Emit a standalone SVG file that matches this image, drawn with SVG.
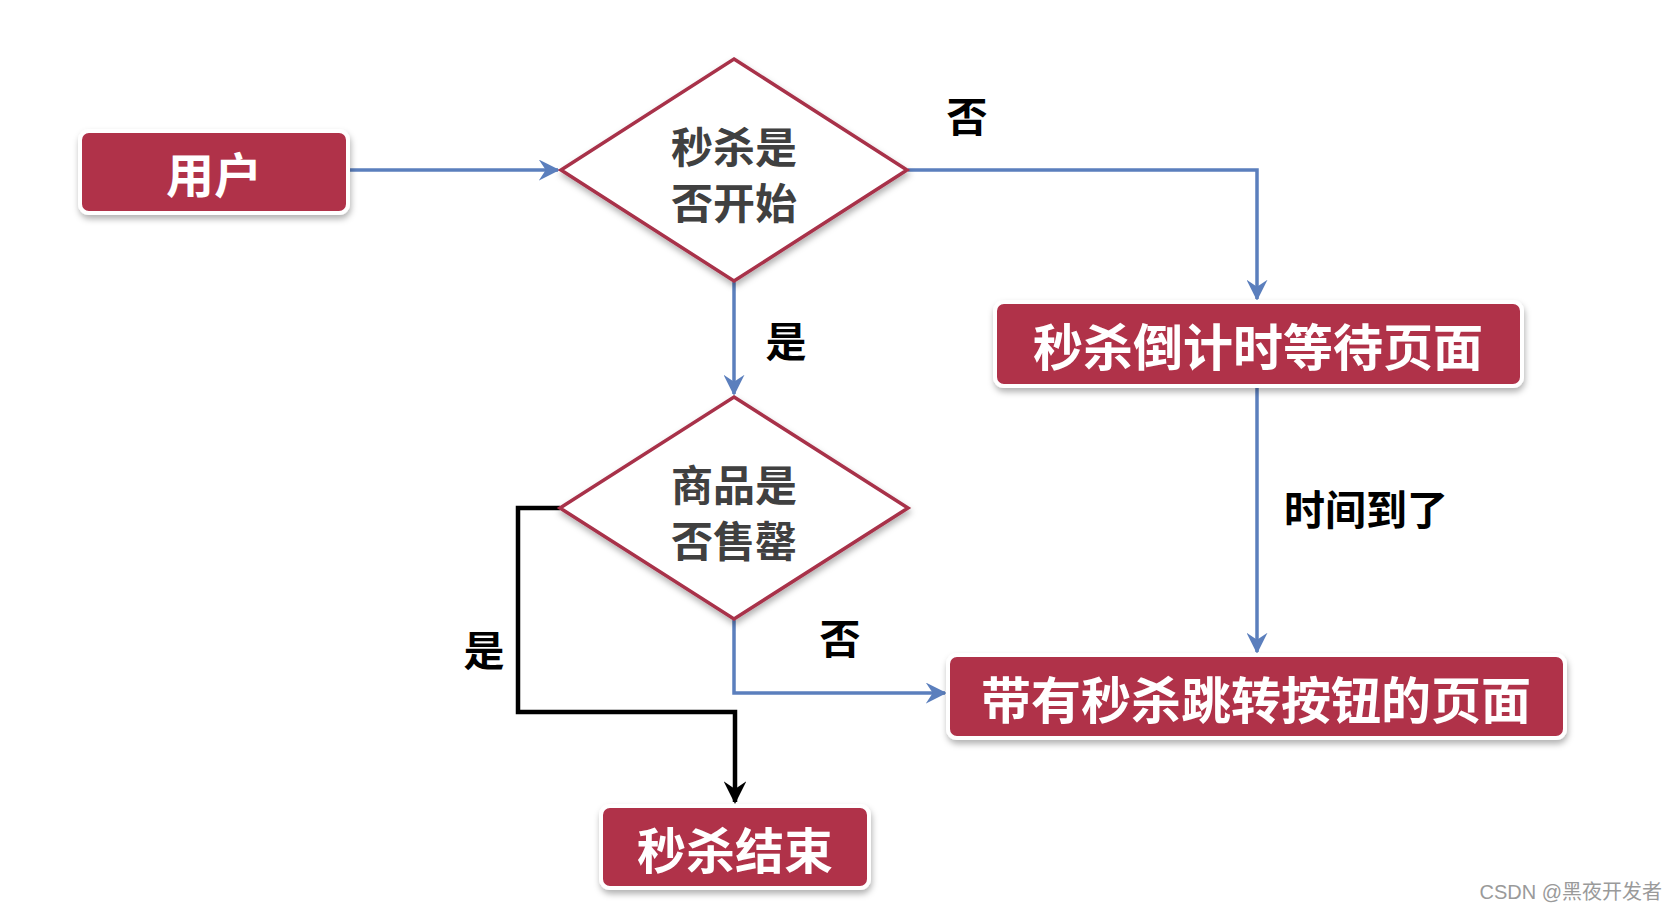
<svg xmlns="http://www.w3.org/2000/svg" width="1670" height="906" viewBox="0 0 1670 906">
<style>
.box{fill:#b0304a;stroke:#ffffff;stroke-width:4;filter:url(#sh)}
.dia{fill:#ffffff;stroke:#a8304a;stroke-width:3.5;filter:url(#sh)}
.bt{font-family:"Noto Sans CJK SC","Noto Sans",sans-serif;font-weight:700;fill:#ffffff;text-anchor:middle;dominant-baseline:central}
.dt{font-family:"Noto Sans CJK SC","Noto Sans",sans-serif;font-weight:700;fill:#404040;text-anchor:middle;dominant-baseline:central;font-size:42px}
.lb{font-family:"Noto Sans CJK SC","Noto Sans",sans-serif;font-weight:700;fill:#000000;text-anchor:middle;dominant-baseline:central;font-size:41px}
.blue{fill:none;stroke:#5b7fbd;stroke-width:3.5;marker-end:url(#ab)}
.black{fill:none;stroke:#000000;stroke-width:4.5;marker-end:url(#ak)}
</style>
<defs>
<filter id="sh" x="-10%" y="-20%" width="120%" height="150%">
<feDropShadow dx="1" dy="4" stdDeviation="3" flood-color="#000000" flood-opacity="0.3"/>
</filter>
<marker id="ab" viewBox="0 0 12 12" refX="11" refY="6" markerWidth="6" markerHeight="6" orient="auto" markerUnits="strokeWidth">
<path d="M0,0 L12,6 L0,12 L4,6 z" fill="#5b7fbd"/>
</marker>
<marker id="ak" viewBox="0 0 12 12" refX="11" refY="6" markerWidth="5" markerHeight="5" orient="auto" markerUnits="strokeWidth">
<path d="M0,0 L12,6 L0,12 L4,6 z" fill="#000000"/>
</marker>
</defs>
<rect width="1670" height="906" fill="#ffffff"/>
<g id="connectors">
<path class="blue" d="M350,170 L558,170"/>
<path class="blue" d="M908,170 L1257,170 L1257,299"/>
<path class="blue" d="M734,282 L734,394"/>
<path class="blue" d="M1257,388 L1257,652"/>
<path class="blue" d="M734,620 L734,693 L945,693"/>
<path class="black" d="M560,508 L518,508 L518,712 L735,712 L735,802"/>
</g>
<g id="n-user">
<rect class="box" x="80" y="131" width="268" height="82" rx="9"/>
<text class="bt" x="214" y="172" font-size="48">用户</text>
</g>
<g id="n-start">
<polygon class="dia" points="734,59 907,170 734,281 561,170"/>
<text class="dt" x="734" y="144">秒杀是</text>
<text class="dt" x="734" y="200">否开始</text>
</g>
<g id="n-wait">
<rect class="box" x="995" y="302" width="527" height="84" rx="9"/>
<text class="bt" x="1258" y="344" font-size="50">秒杀倒计时等待页面</text>
</g>
<g id="n-soldout">
<polygon class="dia" points="734,397 908,508 734,619 560,508"/>
<text class="dt" x="734" y="482">商品是</text>
<text class="dt" x="734" y="538">否售罄</text>
</g>
<g id="n-btn">
<rect class="box" x="948" y="655" width="617" height="83" rx="9"/>
<text class="bt" x="1256" y="697" font-size="50">带有秒杀跳转按钮的页面</text>
</g>
<g id="n-end">
<rect class="box" x="601" y="806" width="268" height="82" rx="9"/>
<text class="bt" x="735" y="847" font-size="49">秒杀结束</text>
</g>
<g id="labels">
<text class="lb" x="967" y="114">否</text>
<text class="lb" x="786" y="339">是</text>
<text class="lb" x="1366" y="507" font-size="45">时间到了</text>
<text class="lb" x="840" y="636">否</text>
<text class="lb" x="484" y="648">是</text>
</g>
<text x="1662" y="892" font-family="Liberation Sans,Noto Sans CJK SC,sans-serif" font-size="20" fill="#9a9a9a" text-anchor="end" dominant-baseline="central">CSDN @黑夜开发者</text>
</svg>
